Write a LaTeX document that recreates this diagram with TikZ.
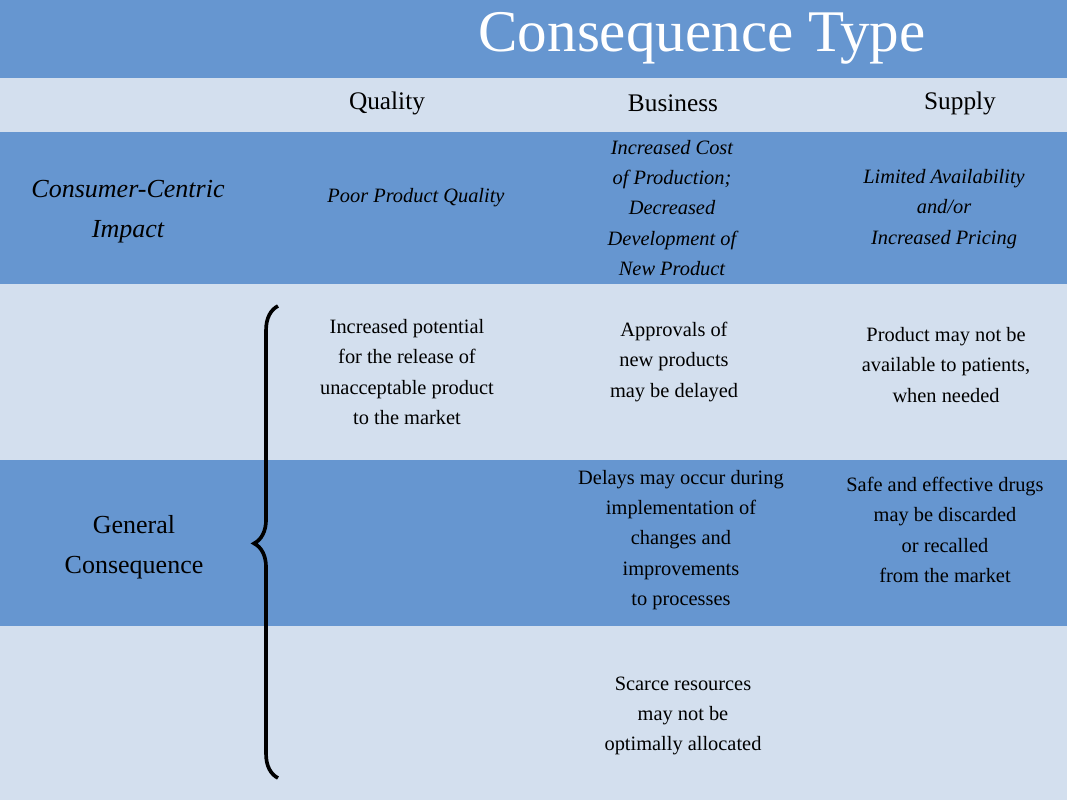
\documentclass[tikz,border=0pt]{standalone}
\usepackage{fontspec}
\setmainfont{Liberation Serif}
\usetikzlibrary{decorations.pathreplacing}
\definecolor{dk}{HTML}{6696D0}
\definecolor{lt}{HTML}{D3DFEE}
\tikzset{
 body/.style={align=center,font=\fontsize{14.5}{21.5}\selectfont},
 ital/.style={align=center,font=\fontsize{14.5}{21.5}\selectfont\itshape},
 hdr/.style={font=\fontsize{18}{22}\selectfont},
 rowl/.style={align=center,font=\fontsize{18.5}{28.5}\selectfont}
}
\begin{document}
\begin{tikzpicture}[x=0.025cm,y=-0.025cm]
\useasboundingbox (0,0) rectangle (1067,800);
\fill[dk] (0,0) rectangle (1067,78);
\fill[lt] (0,78) rectangle (1067,132);
\fill[dk] (0,132) rectangle (1067,284);
\fill[lt] (0,284) rectangle (1067,460);
\fill[dk] (0,460) rectangle (1067,626);
\fill[lt] (0,626) rectangle (1067,800);
\node[text=white,font=\fontsize{42}{46}\selectfont] (title) at (702,38) {Consequence Type};
\node[hdr] (hq) at (387,103) {Quality};
\node[hdr] (hb) at (673,103) {Business};
\node[hdr] (hs) at (960,103) {Supply};
\node[rowl,font=\fontsize{18.5}{28.5}\selectfont\itshape] (r1) at (128,212) {Consumer-Centric\\Impact};
\node[rowl] (r2) at (134,547) {General\\Consequence};
\node[ital] (c11) at (416,198) {Poor Product Quality};
\node[ital] (c12) at (672,208) {Increased Cost\\of Production;\\Decreased\\Development of\\New Product};
\node[ital] (c13) at (944,209) {Limited Availability\\and/or\\Increased Pricing};
\node[body] (c21) at (407,372) {Increased potential\\for the release of\\unacceptable product\\to the market};
\node[body] (c22) at (674,362) {Approvals of\\new products\\may be delayed};
\node[body] (c23) at (946,365) {Product may not be\\available to patients,\\when needed};
\node[body] (c32) at (681,540) {Delays may occur during\\implementation of\\changes and\\improvements\\to processes};
\node[body] (c33) at (945,530) {Safe and effective drugs\\may be discarded\\or recalled\\from the market};
\node[body] (c42) at (683,716) {Scarce resources\\may not be\\optimally allocated};
\coordinate (bt) at (278,778);
\coordinate (bb) at (278,306);
\draw[line width=2.6pt,decorate,decoration={brace,amplitude=17pt,aspect=0.497}] (bt) -- (bb);
\end{tikzpicture}
\end{document}
